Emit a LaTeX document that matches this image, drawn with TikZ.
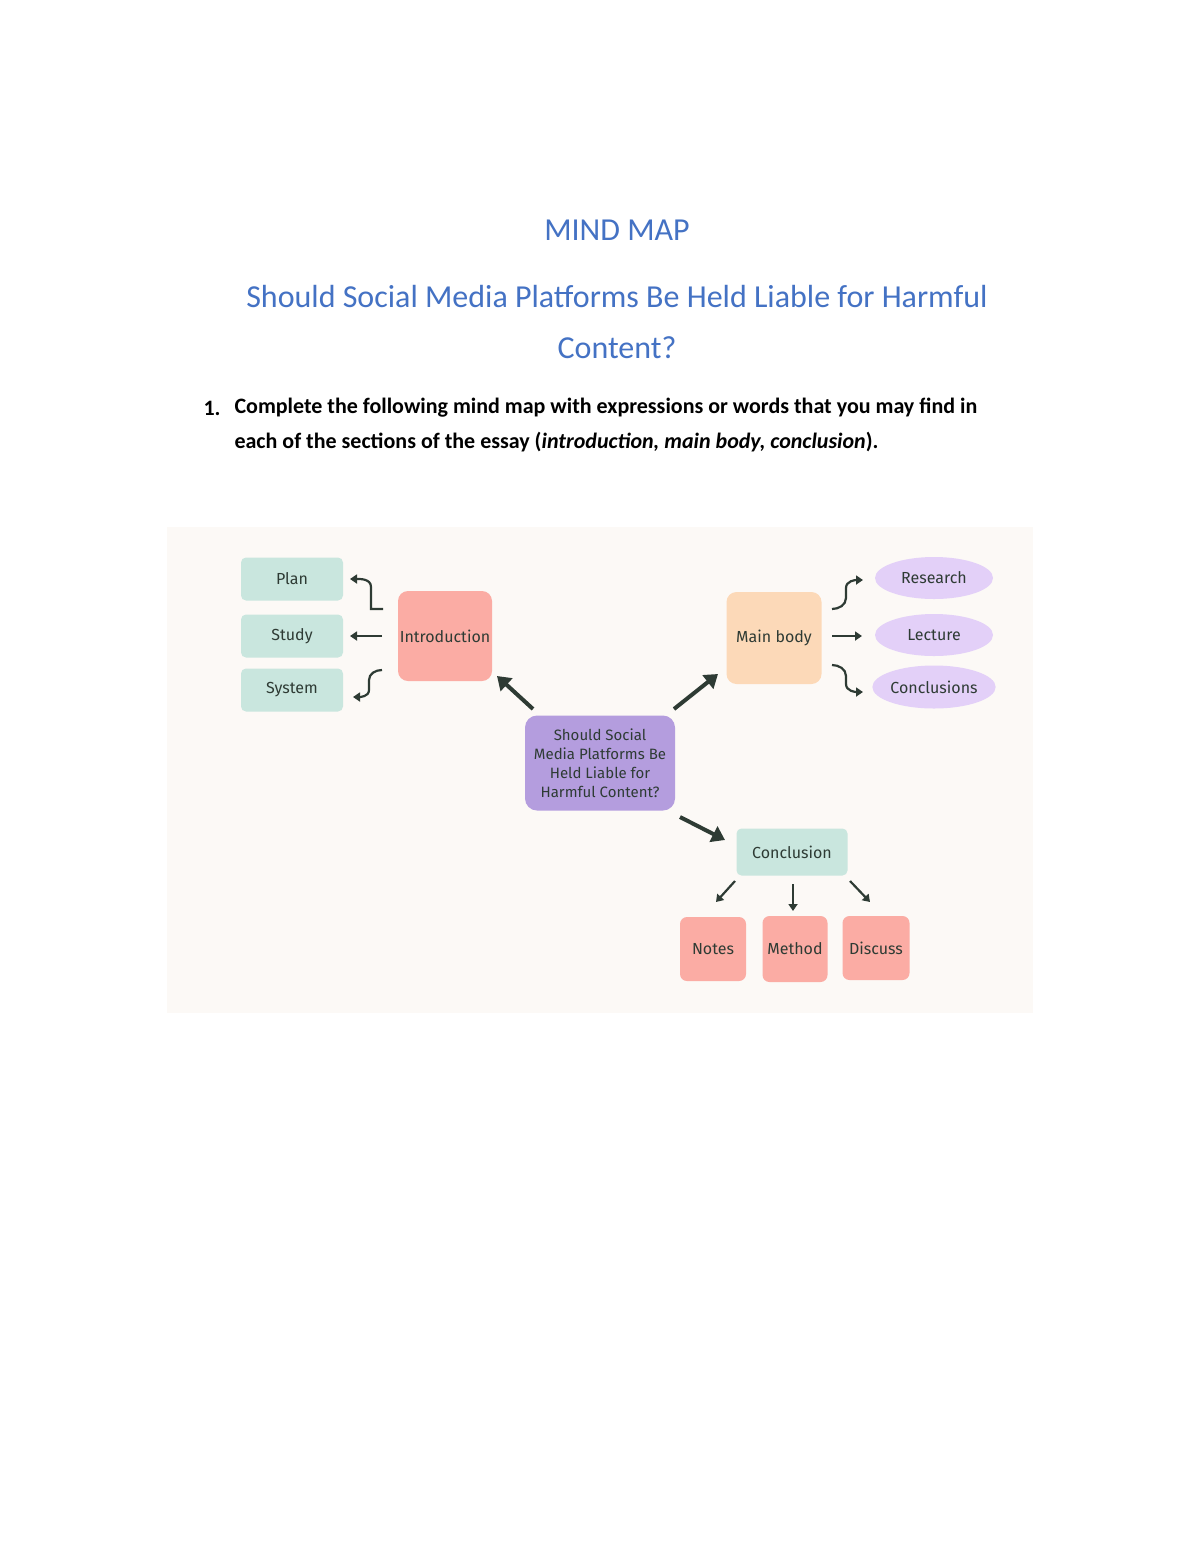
\documentclass[tikz,border=0pt]{standalone}
\usepackage{fontspec}
\setmainfont{Carlito}
\newfontfamily\hand{Fira Sans}
\usetikzlibrary{arrows.meta,shapes.geometric}
\definecolor{ttl}{HTML}{4472C4}
\definecolor{bgd}{HTML}{FCF9F6}
\definecolor{mint}{HTML}{C9E6DE}
\definecolor{salmon}{HTML}{FBACA4}
\definecolor{peach}{HTML}{FCD9B8}
\definecolor{purp}{HTML}{B49DDE}
\definecolor{lav}{HTML}{E3D0F8}
\definecolor{dk}{HTML}{2E3B34}
\tikzset{
 box/.style={rounded corners=5pt,inner sep=0pt,text=dk,font=\hand\fontsize{16}{18}\selectfont,align=center},
 ell/.style={ellipse,fill=lav,inner sep=0pt,text=dk,font=\hand\fontsize{16}{18}\selectfont},
 thin/.style={draw=dk,line width=2.2pt,-{Triangle[length=7pt,width=9pt]}},
 thick/.style={draw=dk,line width=4pt,-{Triangle[length=13pt,width=17pt]}},
}
\begin{document}
\begin{tikzpicture}[x=1pt,y=-1pt]
\useasboundingbox (0,0) rectangle (1200,1553);
\fill[white] (0,0) rectangle (1200,1553);
\node[text=ttl,font=\fontsize{32}{36}\selectfont] (t1) at (617,230) {MIND MAP};
\node[text=ttl,font=\fontsize{32}{36}\selectfont] (t2) at (617,297) {Should Social Media Platforms Be Held Liable for Harmful};
\node[text=ttl,font=\fontsize{32}{36}\selectfont] (t3) at (617,348) {Content?};
\node[anchor=west,font=\bfseries\fontsize{22}{26}\selectfont] (n1) at (200,408) {1.};
\node[anchor=west,font=\fontsize{22}{26}\selectfont] (i1) at (231,408) {\textbf{Complete the following mind map with expressions or words that you may find in}};
\node[anchor=west,font=\fontsize{22}{26}\selectfont] (i2) at (231,442) {\textbf{each of the sections of the essay (\textit{introduction, main body, conclusion}).}};
\fill[bgd] (167,527) rectangle (1033,1013);
\node[box,fill=mint,minimum width=102pt,minimum height=43pt] (plan) at (292,579) {Plan};
\node[box,fill=mint,minimum width=102pt,minimum height=43pt] (study) at (292,636) {Study};
\node[box,fill=mint,minimum width=102pt,minimum height=43pt] (system) at (292,690) {System};
\node[box,fill=salmon,rounded corners=10pt,minimum width=94pt,minimum height=90pt] (intro) at (445,636) {Introduction};
\node[box,fill=purp,rounded corners=12pt,minimum width=150pt,minimum height=95pt,font=\hand\fontsize{15}{19}\selectfont] (center) at (600,763) {Should Social\\Media Platforms Be\\Held Liable for\\Harmful Content?};
\node[box,fill=peach,rounded corners=10pt,minimum width=95pt,minimum height=92pt] (main) at (774,638) {Main body};
\node[ell,minimum width=118pt,minimum height=42pt] (res) at (934,578) {Research};
\node[ell,minimum width=118pt,minimum height=42pt] (lec) at (934,635) {Lecture};
\node[ell,minimum width=118pt,minimum height=43pt] (conc) at (934,687) {Conclusions};
\node[box,fill=mint,minimum width=111pt,minimum height=47pt] (concl) at (792,852) {Conclusion};
\node[box,fill=salmon,rounded corners=7pt,minimum width=66pt,minimum height=64pt] (notes) at (713,949) {Notes};
\node[box,fill=salmon,rounded corners=7pt,minimum width=65pt,minimum height=66pt] (meth) at (795,949) {Method};
\node[box,fill=salmon,rounded corners=7pt,minimum width=67pt,minimum height=64pt] (disc) at (876,948) {Discuss};
\coordinate (a1) at (383,609); \coordinate (a2) at (382,636); \coordinate (a3) at (382,670);
\draw[thin] (a1) -- (371,609) -- (371,587) to[out=90,in=0] (350,579);
\draw[thin] (a2) -- (350,636);
\draw[thin] (a3) to[out=180,in=90] (369,680) -- (369,690) to[out=-90,in=0] (353,697);
\coordinate (b1) at (832,609); \coordinate (b2) at (832,636); \coordinate (b3) at (832,665);
\draw[thin] (b1) to[out=0,in=-90] (846,598) -- (846,588) to[out=90,in=180] (863,580);
\draw[thin] (b2) -- (862,636);
\draw[thin] (b3) to[out=0,in=90] (846,676) -- (846,684) to[out=-90,in=180] (863,692);
\draw[thick] (533,709) -- (497,676);
\draw[thick] (674,709) -- (718,674);
\draw[thick] (680,817) -- (725,840);
\draw[thin] (735,881) -- (716,902);
\draw[thin] (793,884) -- (793,911);
\draw[thin] (850,881) -- (870,902);
\end{tikzpicture}
\end{document}
